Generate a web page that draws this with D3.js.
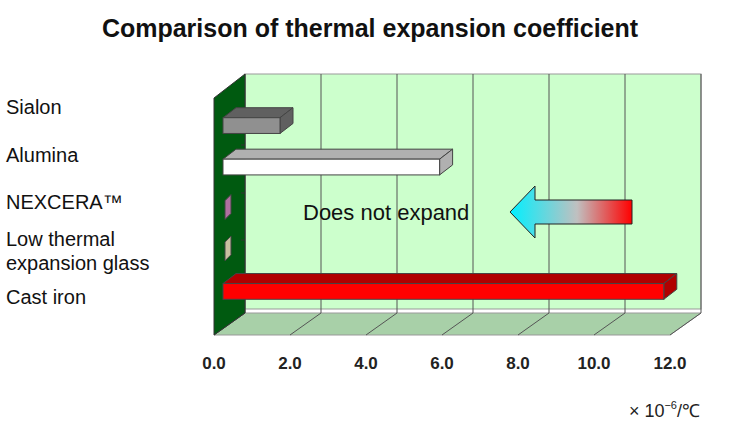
<!DOCTYPE html><html><head><meta charset="utf-8"><script src="https://cdn.jsdelivr.net/npm/d3@7"></script>
<style>body{margin:0;background:#fff}text{font-family:"Liberation Sans",Arial,sans-serif}</style></head><body>
<svg id="c" width="740" height="430"></svg>
<script>
const categories=["Sialon","Alumina","NEXCERA™","Low thermal expansion glass","Cast iron"];
const values=[1.5,5.7,0,0,11.6];
const ticks=[0,2,4,6,8,10,12];
const tickLabels=["0.0","2.0","4.0","6.0","8.0","10.0","12.0"];
const colors=["#909090","#ffffff","#b070a0","#c8c0a0","#ff0000"];
const sides=["#606060","#b0b0b0","#804070","#a09878","#b00000"];
const svg=d3.select("#c");
const x=d3.scaleLinear().domain([0,12]).range([214,670]);
const y=d3.scaleBand().domain(categories).range([92,325]).padding(0.62);
const DX=31,DY=-22, wTop=98, wBot=335;
svg.append("rect").attr("x",x(0)+DX).attr("y",wTop+DY-2).attr("width",x(12)-x(0)).attr("height",wBot-wTop-2).attr("fill","#ccffcc").attr("stroke","#999");
svg.append("polygon").attr("points",[[x(0),wBot],[x(12),wBot],[x(12)+DX,wBot+DY],[x(0)+DX,wBot+DY]].join(" ")).attr("fill","#a8d0a8").attr("stroke","#999");
ticks.forEach(t=>{
 svg.append("line").attr("x1",x(t)+DX).attr("x2",x(t)+DX).attr("y1",wTop+DY-2).attr("y2",wBot+DY).attr("stroke","#555");
 svg.append("line").attr("x1",x(t)).attr("y1",wBot).attr("x2",x(t)+DX).attr("y2",wBot+DY).attr("stroke","#555");
});
svg.append("polygon").attr("points",[[x(0),wTop],[x(0)+DX,wTop+DY-2],[x(0)+DX,wBot+DY],[x(0),wBot]].join(" ")).attr("fill","#005a10").attr("stroke","#333");
[145,193,240,287].forEach(v=>svg.append("line").attr("x1",x(0)+DX-4).attr("x2",x(0)+DX).attr("y1",v).attr("y2",v).attr("stroke","#333"));
const bdx=13,bdy=-10,off=9;
categories.forEach((c,i)=>{
 const g=svg.append("g"), x0=x(0)+off, x1=x(values[i])+off, y0=y(c), h=y.bandwidth();
 if(values[i]>0){
  g.append("polygon").attr("points",[[x0,y0],[x1,y0],[x1+bdx,y0+bdy],[x0+bdx,y0+bdy]].join(" ")).attr("fill",sides[i]).attr("stroke","#444");
  g.append("polygon").attr("points",[[x1,y0],[x1+bdx,y0+bdy],[x1+bdx,y0+bdy+h],[x1,y0+h]].join(" ")).attr("fill",sides[i]).attr("stroke","#444");
  g.append("rect").attr("x",x0).attr("y",y0).attr("width",x1-x0).attr("height",h).attr("fill",colors[i]).attr("stroke","#444");
 } else {
  g.append("polygon").attr("points",[[x0+2,y0+h+3],[x0+8,y0+h-3],[x0+8,y0-6],[x0+2,y0]].join(" ")).attr("fill",colors[i]).attr("stroke","#444");
 }
});
const lab=svg.append("g").attr("font-size",20).attr("fill","#111");
lab.append("text").attr("x",6).attr("y",114).text(categories[0]);
lab.append("text").attr("x",6).attr("y",162).text(categories[1]);
lab.append("text").attr("x",6).attr("y",209).text(categories[2]);
lab.append("text").attr("x",6).attr("y",246).text("Low thermal");
lab.append("text").attr("x",6).attr("y",270).text("expansion glass");
lab.append("text").attr("x",6).attr("y",304).text(categories[4]);
svg.append("g").selectAll("text").data(ticks).join("text").attr("x",d=>x(d)).attr("y",369).attr("text-anchor","middle").attr("font-size",17).attr("font-weight","bold").attr("fill","#222").text((d,i)=>tickLabels[i]);
svg.append("text").attr("x",700).attr("y",417).attr("text-anchor","end").attr("font-size",18).attr("fill","#222").html("× 10<tspan dy='-8' font-size='11'>−6</tspan><tspan dy='8'>/℃</tspan>");
svg.append("text").attr("x",370).attr("y",37).attr("text-anchor","middle").attr("font-size",25).attr("font-weight","bold").attr("fill","#111").text("Comparison of thermal expansion coefficient");
const gr=svg.append("defs").append("linearGradient").attr("id","ag");
gr.append("stop").attr("offset","0%").attr("stop-color","#00f0ff");
gr.append("stop").attr("offset","55%").attr("stop-color","#c0c0c0");
gr.append("stop").attr("offset","100%").attr("stop-color","#ff0000");
svg.append("polygon").attr("points","510,212 535,186 535,200 632,200 632,224 535,224 535,238").attr("fill","url(#ag)").attr("stroke","#222").attr("stroke-width",1);
svg.append("text").attr("x",303).attr("y",220).attr("font-size",22).attr("fill","#111").text("Does not expand");
</script></body></html>
